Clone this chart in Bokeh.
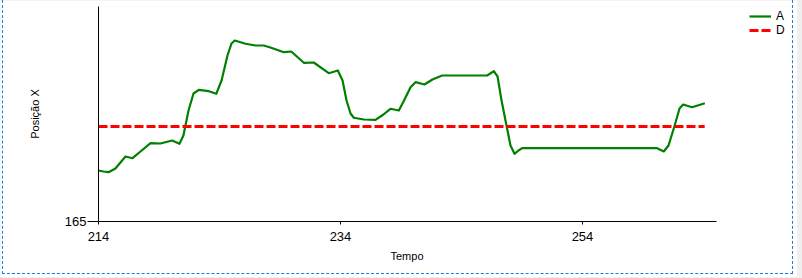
from bokeh.plotting import figure
from bokeh.models import FixedTicker, Legend, LegendItem, Range1d, InlineStyleSheet, Title
from bokeh.layouts import column
from bokeh.embed import file_html
from bokeh.resources import INLINE

# Series A
tempo_a = [214.0, 214.41, 214.83, 215.40, 216.23, 216.81, 217.47, 218.30, 219.12, 220.09,
           220.69, 221.02, 221.44, 221.85, 222.29, 223.12, 223.73, 224.17, 224.66, 224.99,
           225.26, 226.15, 226.98, 227.66, 228.21, 229.31, 229.93, 230.97, 231.79, 233.03,
           233.78, 234.17, 234.50, 234.83, 235.10, 235.93, 236.89, 237.55, 238.13, 238.82,
           239.21, 239.79, 240.20, 240.94, 241.60, 242.40, 246.12, 246.67, 246.98, 247.31,
           247.72, 248.05, 248.38, 248.71, 249.02, 260.17, 260.72, 261.11, 261.60, 262.02,
           262.32, 263.06, 264.11]
pos_a = [176.86, 176.63, 176.47, 177.33, 180.12, 179.72, 181.28, 183.21, 183.14, 183.84,
         183.07, 185.0, 190.81, 194.77, 195.63, 195.30, 194.70, 197.79, 203.60, 206.40,
         207.09, 206.33, 205.93, 205.93, 205.47, 204.37, 204.53, 201.91, 201.98, 199.49,
         200.12, 197.79, 193.14, 190.12, 189.12, 188.72, 188.65, 189.88, 191.21, 190.81,
         192.91, 196.23, 197.40, 196.86, 198.02, 198.95, 198.95, 199.95, 198.72, 193.14,
         187.33, 182.67, 180.74, 181.51, 182.05, 182.05, 181.28, 182.67, 187.16, 191.28,
         192.21, 191.58, 192.51]

# Series D
tempo_d = [214.0, 264.1]
pos_d = [187.1, 187.1]

x_ticks = [214, 234, 254]
y_ticks = [165]
x_axis_end = 265.1

FONT = "Liberation Sans"

fig_css = InlineStyleSheet(css="""
:host { position: relative; }
:host::after {
  content: ''; position: absolute; left: 2px; top: 0px; width: 791px; height: 274px;
  border-left: 1px dashed #1a7fd6; border-right: 1px dashed #1a7fd6;
  border-bottom: 1px dashed #1a7fd6; pointer-events: none; z-index: 100;
}
""")
p = figure(width=797, height=277, output_backend="svg", toolbar_location=None,
           x_range=Range1d(214, 271.77), y_range=Range1d(165, 215),
           min_border_left=98, min_border_right=0, min_border_top=6, min_border_bottom=56,
           background_fill_color="white", border_fill_color="white",
           stylesheets=[fig_css])
p.outline_line_color = None
p.grid.visible = False

p.xaxis.ticker = FixedTicker(ticks=x_ticks)
p.yaxis.ticker = FixedTicker(ticks=y_ticks)
p.xaxis.bounds = (214, x_axis_end)
for ax in (p.xaxis[0], p.yaxis[0]):
    ax.axis_line_color = "black"
    ax.axis_line_width = 1
    ax.major_tick_line_color = "black"
    ax.major_tick_in = 0
    ax.minor_tick_line_color = None
    ax.major_label_text_font = FONT
    ax.major_label_text_font_size = "13px"
    ax.major_label_text_color = "black"
    ax.axis_label_text_font = FONT
    ax.axis_label_text_font_size = "11px"
    ax.axis_label_text_font_style = "normal"
    ax.axis_label_text_color = "black"

p.xaxis.major_tick_out = 3
p.xaxis.major_label_standoff = 7

p.yaxis.major_tick_out = 11
p.yaxis.major_label_standoff = 1
p.yaxis.axis_label = "Posição X"
p.yaxis.axis_label_standoff = 21

# x-axis title, centred under the drawn axis line (214 .. 265.1)
xt = Title(text="Tempo", align="left", offset=292, standoff=8,
           text_font=FONT, text_font_size="11px", text_font_style="normal",
           text_color="black")
p.add_layout(xt, "below")

ra = p.line(tempo_a, pos_a, line_color="#008000", line_width=2.2, line_join="round")
rd = p.line(tempo_d, pos_d, line_color="#ff0000", line_width=3, line_dash="9 3")

legend = Legend(items=[LegendItem(label="A", renderers=[ra]),
                       LegendItem(label="D", renderers=[rd])],
                location=(651, 184), orientation="vertical",
                glyph_width=22, glyph_height=14, label_standoff=5, spacing=0,
                padding=0, margin=0, border_line_color=None, background_fill_alpha=0,
                label_text_font=FONT, label_text_font_size="12px", label_text_color="black",
                label_height=14)
p.add_layout(legend, "center")

wrap_css = InlineStyleSheet(css=":host { background-color: #f0f0f0; }")
layout = column(p, width=802, height=278, stylesheets=[wrap_css])

open("out.html", "w").write(file_html(layout, INLINE))
